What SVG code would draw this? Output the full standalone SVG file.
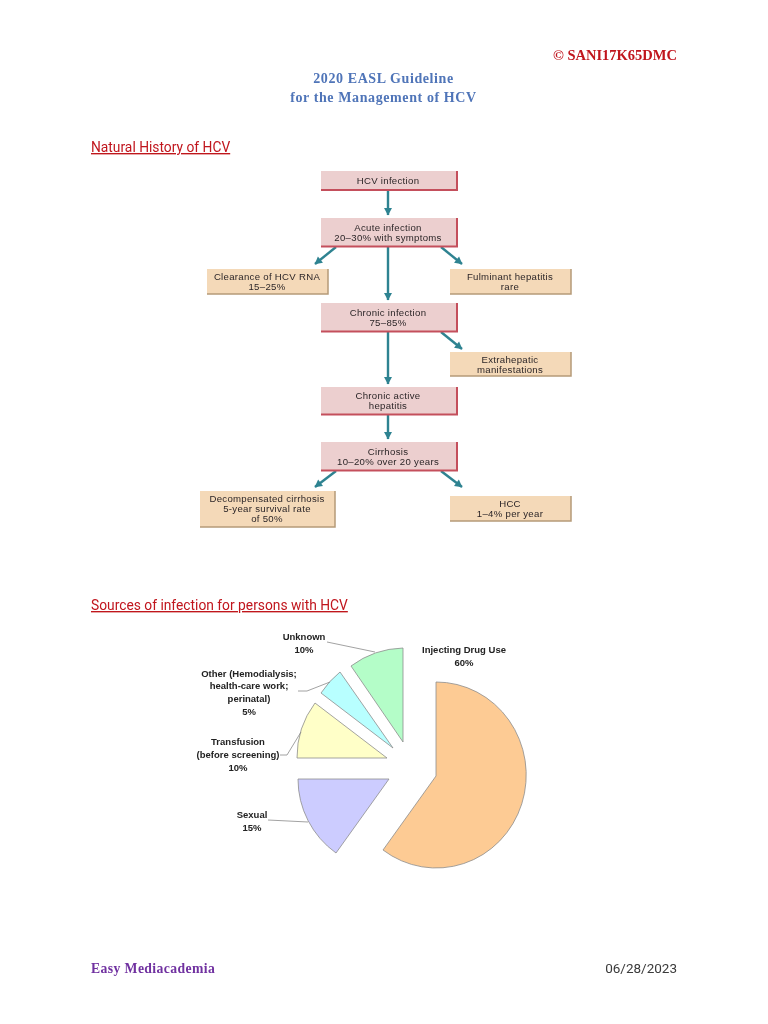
<svg xmlns="http://www.w3.org/2000/svg" width="768" height="1024" viewBox="0 0 768 1024">
<style>
.pink{fill:#eccfcf}
.tan{fill:#f4d9b8}
.pe{fill:none;stroke:#c4505c;stroke-width:2}
.te{fill:none;stroke:#b59a78;stroke-width:1.5}
.ft{font:400 9.6px "Liberation Sans",Arial,sans-serif;letter-spacing:.3px;fill:#2c2628;text-anchor:middle}
.conn{fill:none;stroke:#2f8391;stroke-width:2.4;marker-end:url(#ah)}
.pt{font:700 9.5px "Liberation Sans",Arial,sans-serif;fill:#222;text-anchor:middle}
.lead{fill:none;stroke:#8a8a8a;stroke-width:.8}
.sl{stroke:#8d8d8d;stroke-width:.8}
.h{font:400 13.8px Roboto,"Liberation Sans",sans-serif;fill:#c0141c;text-decoration:underline}
.ti{font:700 14px "Liberation Serif","Times New Roman",serif;fill:#4f74b8;text-anchor:middle;letter-spacing:.6px}
</style>
<defs>
<marker id="ah" markerUnits="userSpaceOnUse" markerWidth="10" markerHeight="9" refX="8" refY="4.500" orient="auto"><path d="M1,0.500L8.500,4.500L1,8.500z" fill="#2f8391"/></marker>
<filter id="soft" x="-5%" y="-5%" width="110%" height="110%"><feGaussianBlur stdDeviation="0.35"/></filter>
</defs>
<rect width="768" height="1024" fill="#fff"/>
<g filter="url(#soft)">
<text id="copyright" x="677" y="60" text-anchor="end" style="font:700 14.5px 'Liberation Serif',serif;fill:#c0141c">© SANI17K65DMC</text>
<text class="ti" x="383.500" y="83">2020 EASL Guideline</text>
<text class="ti" x="383.500" y="102">for the Management of HCV</text>
<text class="h" x="91" y="152">Natural History of HCV</text>
<text class="h" x="91" y="610">Sources of infection for persons with HCV</text>
<g id="connectors">
<path class="conn" d="M388,190V215"/>
<path class="conn" d="M388,247V300"/>
<path class="conn" d="M336,247L315,264"/>
<path class="conn" d="M441,247L462,264"/>
<path class="conn" d="M388,332V384"/>
<path class="conn" d="M441,332L462,349"/>
<path class="conn" d="M388,415V439"/>
<path class="conn" d="M336,471L315,487"/>
<path class="conn" d="M441,471L462,487"/>
</g>
<g id="n-hcv"><rect class="pink" x="321" y="171" width="137" height="19"/><path class="pe" d="M321,190H457V171"/><text class="ft" x="388" y="184">HCV infection</text></g>
<g id="n-acute"><rect class="pink" x="321" y="218" width="137" height="29"/><path class="pe" d="M321,246.500H457V218"/><text class="ft" x="388" y="231">Acute infection</text><text class="ft" x="388" y="241">20–30% with symptoms</text></g>
<g id="n-clearance"><rect class="tan" x="207" y="269" width="121" height="25"/><path class="te" d="M207,294H328V269"/><text class="ft" x="267" y="280">Clearance of HCV RNA</text><text class="ft" x="267" y="290">15–25%</text></g>
<g id="n-fulminant"><rect class="tan" x="450" y="269" width="121" height="25"/><path class="te" d="M450,294H571V269"/><text class="ft" x="510" y="280">Fulminant hepatitis</text><text class="ft" x="510" y="290">rare</text></g>
<g id="n-chronic"><rect class="pink" x="321" y="303" width="137" height="29"/><path class="pe" d="M321,331.500H457V303"/><text class="ft" x="388" y="316">Chronic infection</text><text class="ft" x="388" y="326">75–85%</text></g>
<g id="n-extra"><rect class="tan" x="450" y="352" width="121" height="24"/><path class="te" d="M450,376H571V352"/><text class="ft" x="510" y="363">Extrahepatic</text><text class="ft" x="510" y="373">manifestations</text></g>
<g id="n-active"><rect class="pink" x="321" y="387" width="137" height="28"/><path class="pe" d="M321,414.500H457V387"/><text class="ft" x="388" y="399">Chronic active</text><text class="ft" x="388" y="409">hepatitis</text></g>
<g id="n-cirrhosis"><rect class="pink" x="321" y="442" width="137" height="29"/><path class="pe" d="M321,470.500H457V442"/><text class="ft" x="388" y="455">Cirrhosis</text><text class="ft" x="388" y="465">10–20% over 20 years</text></g>
<g id="n-decomp"><rect class="tan" x="200" y="491" width="135" height="36"/><path class="te" d="M200,527H335V491"/><text class="ft" x="267" y="502">Decompensated cirrhosis</text><text class="ft" x="267" y="512">5-year survival rate</text><text class="ft" x="267" y="522">of 50%</text></g>
<g id="n-hcc"><rect class="tan" x="450" y="496" width="121" height="25"/><path class="te" d="M450,521H571V496"/><text class="ft" x="510" y="507">HCC</text><text class="ft" x="510" y="517">1–4% per year</text></g>
<path id="s-drug" class="sl" fill="#fdcb94" d="M436,776V682A90,93 0 1 1 383,850Z"/>
<path id="s-sexual" class="sl" fill="#ccccff" d="M389,779H298A91,91 0 0 0 336,853Z"/>
<path id="s-transfusion" class="sl" fill="#ffffc8" d="M387,758H297A91,91 0 0 1 315,703Z"/>
<path id="s-other" class="sl" fill="#b8ffff" d="M393,748L321,693A91,91 0 0 1 340,672Z"/>
<path id="s-unknown" class="sl" fill="#b4fdc8" d="M403,742L351,666A91,91 0 0 1 403,648Z"/>
<g id="leaders">
<path class="lead" d="M327,642L375,652"/>
<path class="lead" d="M298,691H307L330,682"/>
<path class="lead" d="M280,755H287L301,732"/>
<path class="lead" d="M268,820L308,822"/>
</g>
<text class="pt" x="304" y="640">Unknown</text><text class="pt" x="304" y="653">10%</text>
<text class="pt" x="464" y="653">Injecting Drug Use</text><text class="pt" x="464" y="666">60%</text>
<text class="pt" x="249" y="677">Other (Hemodialysis;</text><text class="pt" x="249" y="689">health-care work;</text><text class="pt" x="249" y="702">perinatal)</text><text class="pt" x="249" y="715">5%</text>
<text class="pt" x="238" y="745">Transfusion</text><text class="pt" x="238" y="758">(before screening)</text><text class="pt" x="238" y="771">10%</text>
<text class="pt" x="252" y="818">Sexual</text><text class="pt" x="252" y="831">15%</text>
<text id="footer-l" x="91" y="973" style="font:700 13.7px 'Liberation Serif',serif;fill:#7030a0;letter-spacing:.4px">Easy Mediacademia</text>
<text id="footer-r" x="677" y="973" text-anchor="end" style="font:400 13.5px Roboto,'Liberation Sans',sans-serif;fill:#3a3a3a">06/28/2023</text>
</g>
</svg>
